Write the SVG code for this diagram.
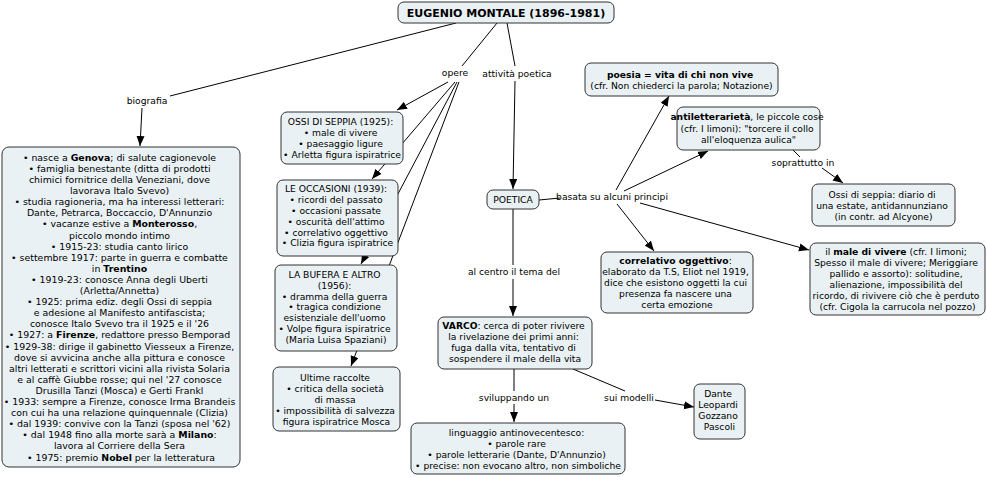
<svg xmlns="http://www.w3.org/2000/svg" width="987" height="477" viewBox="0 0 987 477">
<style>
.t{font-family:"DejaVu Sans",Verdana,"Liberation Sans",sans-serif;font-size:9.2px;fill:#000;text-anchor:middle}
.bio{font-size:9.4px}
.b{font-weight:bold}
.box{fill:#eaf1f4;stroke:#333;stroke-width:1}
.ln{stroke:#000;stroke-width:1;fill:none}
.ar{marker-end:url(#ah)}
</style>
<defs>
<marker id="ah" markerUnits="userSpaceOnUse" markerWidth="11" markerHeight="9" refX="10" refY="4" orient="auto" viewBox="0 0 11 9">
<path d="M0,0 L10,4 L0,8 z" fill="#000"/>
</marker>
</defs>
<rect width="987" height="477" fill="#fff"/>
<g id="connectors">
<line class="ln" x1="456" y1="23" x2="170" y2="96"/>
<line class="ln ar" x1="142" y1="108" x2="140" y2="146"/>
<line class="ln" x1="497" y1="23" x2="462" y2="66"/>
<line class="ln" x1="507" y1="23" x2="515" y2="66"/>
<line class="ln ar" x1="448" y1="82" x2="397" y2="110"/>
<line class="ln ar" x1="455" y1="82" x2="372" y2="179"/>
<line class="ln ar" x1="457" y1="82" x2="361" y2="264"/>
<line class="ln ar" x1="459" y1="82" x2="351" y2="366"/>
<line class="ln ar" x1="515" y1="81" x2="513" y2="189"/>
<line class="ln" x1="539" y1="200" x2="560" y2="198"/>
<line class="ln ar" x1="616" y1="190" x2="669" y2="96"/>
<line class="ln ar" x1="624" y1="191" x2="708" y2="151"/>
<line class="ln ar" x1="640" y1="203" x2="809" y2="250"/>
<line class="ln ar" x1="617" y1="204" x2="654" y2="251"/>
<line class="ln" x1="793" y1="150" x2="800" y2="157"/>
<line class="ln ar" x1="822" y1="168" x2="843" y2="183"/>
<line class="ln" x1="513" y1="209" x2="513" y2="265"/>
<line class="ln ar" x1="513" y1="279" x2="513" y2="316"/>
<line class="ln" x1="514" y1="369" x2="514" y2="391"/>
<line class="ln ar" x1="514" y1="404" x2="514" y2="422"/>
<line class="ln" x1="573" y1="369" x2="625" y2="391"/>
<line class="ln ar" x1="655" y1="400" x2="694" y2="407"/>
</g>
<g id="labels">
<text class="t" x="147" y="104.3">biografia</text>
<text class="t" x="455" y="76">opere</text>
<text class="t" x="517" y="77">attività poetica</text>
<text class="t" x="612" y="200">basata su alcuni principi</text>
<text class="t" x="803" y="166">soprattutto in</text>
<text class="t" x="514" y="275.3">al centro il tema del</text>
<text class="t" x="514" y="401">sviluppando un</text>
<text class="t" x="629" y="400.5">sui modelli</text>
</g>
<g id="title">
<rect class="box" x="398" y="2" width="216" height="21" rx="6"/>
<text class="t b" x="506" y="16.5" style="font-size:11px">EUGENIO MONTALE (1896-1981)</text>
</g>
<g id="biografia">
<rect class="box" x="2" y="147" width="238" height="320" rx="7"/>
<text class="t bio" x="121" y="160.8">
<tspan x="121" dy="0">• nasce a <tspan class="b">Genova</tspan>; di salute cagionevole</tspan>
<tspan x="121" dy="11.1">• famiglia benestante (ditta di prodotti</tspan>
<tspan x="121" dy="11.1">chimici fornitrice della Veneziani, dove</tspan>
<tspan x="121" dy="11.1">lavorava Italo Svevo)</tspan>
<tspan x="121" dy="11.1">• studia ragioneria, ma ha interessi letterari:</tspan>
<tspan x="121" dy="11.1">Dante, Petrarca, Boccaccio, D'Annunzio</tspan>
<tspan x="121" dy="11.1">• vacanze estive a <tspan class="b">Monterosso</tspan>,</tspan>
<tspan x="121" dy="11.1">piccolo mondo intimo</tspan>
<tspan x="121" dy="11.1">• 1915-23: studia canto lirico</tspan>
<tspan x="121" dy="11.1">• settembre 1917: parte in guerra e combatte</tspan>
<tspan x="121" dy="11.1">in <tspan class="b">Trentino</tspan></tspan>
<tspan x="121" dy="11.1">• 1919-23: conosce Anna degli Uberti</tspan>
<tspan x="121" dy="11.1">(Arletta/Annetta)</tspan>
<tspan x="121" dy="11.1">• 1925: prima ediz. degli Ossi di seppia</tspan>
<tspan x="121" dy="11.1">e adesione al Manifesto antifascista;</tspan>
<tspan x="121" dy="11.1">conosce Italo Svevo tra il 1925 e il '26</tspan>
<tspan x="121" dy="11.1">• 1927: a <tspan class="b">Firenze</tspan>, redattore presso Bemporad</tspan>
<tspan x="121" dy="11.1">• 1929-38: dirige il gabinetto Viesseux a Firenze,</tspan>
<tspan x="121" dy="11.1">dove si avvicina anche alla pittura e conosce</tspan>
<tspan x="121" dy="11.1">altri letterati e scrittori vicini alla rivista Solaria</tspan>
<tspan x="121" dy="11.1">e al caffè Giubbe rosse; qui nel '27 conosce</tspan>
<tspan x="121" dy="11.1">Drusilla Tanzi (Mosca) e Gerti Frankl</tspan>
<tspan x="121" dy="11.1">• 1933: sempre a Firenze, conosce Irma Brandeis</tspan>
<tspan x="121" dy="11.1">con cui ha una relazione quinquennale (Clizia)</tspan>
<tspan x="121" dy="11.1">• dal 1939: convive con la Tanzi (sposa nel '62)</tspan>
<tspan x="121" dy="11.1">• dal 1948 fino alla morte sarà a <tspan class="b">Milano</tspan>:</tspan>
<tspan x="121" dy="11.1">lavora al Corriere della Sera</tspan>
<tspan x="121" dy="11.1">• 1975: premio <tspan class="b">Nobel</tspan> per la letteratura</tspan>
</text>
</g>
<g id="ossi">
<rect class="box" x="281" y="112" width="122" height="52" rx="6"/>
<text class="t" x="342" y="124.8">
<tspan x="342" dy="0">OSSI DI SEPPIA (1925):</tspan>
<tspan x="342" dy="10.9">• male di vivere</tspan>
<tspan x="342" dy="10.9">• paesaggio ligure</tspan>
<tspan x="342" dy="10.9">• Arletta figura ispiratrice</tspan>
</text>
</g>
<g id="occasioni">
<rect class="box" x="277" y="180" width="121" height="76" rx="6"/>
<text class="t" x="337.5" y="192.3">
<tspan x="337.5" dy="0">LE OCCASIONI (1939):</tspan>
<tspan x="337.5" dy="10.8">• ricordi del passato</tspan>
<tspan x="337.5" dy="10.8">• occasioni passate</tspan>
<tspan x="337.5" dy="10.8">• oscurità dell'attimo</tspan>
<tspan x="337.5" dy="10.8">• correlativo oggettivo</tspan>
<tspan x="337.5" dy="10.8">• Clizia figura ispiratrice</tspan>
</text>
</g>
<g id="bufera">
<rect class="box" x="275" y="265" width="122" height="86" rx="6"/>
<text class="t" x="336" y="278.3">
<tspan x="336" dy="0">LA BUFERA E ALTRO</tspan>
<tspan x="336" dy="10.7">(1956):</tspan>
<tspan x="336" dy="10.7">• dramma della guerra</tspan>
<tspan x="336" dy="10.7">• tragica condizione</tspan>
<tspan x="336" dy="10.7">esistenziale dell'uomo</tspan>
<tspan x="336" dy="10.7">• Volpe figura ispiratrice</tspan>
<tspan x="336" dy="10.7">(Maria Luisa Spaziani)</tspan>
</text>
</g>
<g id="ultime">
<rect class="box" x="273" y="367" width="127" height="64" rx="6"/>
<text class="t" x="336.5" y="380.5">
<tspan x="336.5" dy="0">Ultime raccolte</tspan>
<tspan x="336.5" dy="11">• critica della società</tspan>
<tspan x="336.5" dy="11">di massa</tspan>
<tspan x="336.5" dy="11">• impossibilità di salvezza</tspan>
<tspan x="336.5" dy="11">figura ispiratrice Mosca</tspan>
</text>
</g>
<g id="poetica">
<rect class="box" x="487" y="190" width="52" height="19" rx="6"/>
<text class="t" x="513" y="203.3">POETICA</text>
</g>
<g id="poesia">
<rect class="box" x="585" y="63" width="193" height="33" rx="6"/>
<text class="t" x="681.5" y="77.5">
<tspan x="681.5" dy="0" class="b">poesia = vita di chi non vive</tspan>
<tspan x="681.5" dy="11.3">(cfr. Non chiederci la parola; Notazione)</tspan>
</text>
</g>
<g id="antiletterarieta">
<rect class="box" x="677" y="107" width="143" height="43" rx="6"/>
<text class="t" x="748.5" y="120.3">
<tspan x="748.5" dy="0"><tspan class="b">antiletterarietà</tspan>, le piccole cose</tspan>
<tspan x="748.5" dy="11.2">(cfr. I limoni): "torcere il collo</tspan>
<tspan x="748.5" dy="11.2">all'eloquenza aulica"</tspan>
</text>
</g>
<g id="ossi-diario">
<rect class="box" x="812" y="184" width="143" height="42" rx="6"/>
<text class="t" x="883.5" y="198.3">
<tspan x="883.5" dy="0">Ossi di seppia: diario di</tspan>
<tspan x="883.5" dy="11">una estate, antidannunziano</tspan>
<tspan x="883.5" dy="11">(in contr. ad Alcyone)</tspan>
</text>
</g>
<g id="male-di-vivere">
<rect class="box" x="810" y="243" width="175" height="72" rx="6"/>
<text class="t" x="897.5" y="255.3">
<tspan x="897.5" dy="0">il <tspan class="b">male di vivere</tspan> (cfr. I limoni;</tspan>
<tspan x="897.5" dy="11">Spesso il male di vivere; Meriggiare</tspan>
<tspan x="897.5" dy="11">pallido e assorto): solitudine,</tspan>
<tspan x="897.5" dy="11">alienazione, impossibilità del</tspan>
<tspan x="897.5" dy="11">ricordo, di rivivere ciò che è perduto</tspan>
<tspan x="897.5" dy="11">(cfr. Cigola la carrucola nel pozzo)</tspan>
</text>
</g>
<g id="correlativo">
<rect class="box" x="601" y="252" width="152" height="61" rx="6"/>
<text class="t" x="677" y="264.3">
<tspan x="677" dy="0"><tspan class="b">correlativo oggettivo</tspan>:</tspan>
<tspan x="677" dy="11">elaborato da T.S, Eliot nel 1919,</tspan>
<tspan x="677" dy="11">dice che esistono oggetti la cui</tspan>
<tspan x="677" dy="11">presenza fa nascere una</tspan>
<tspan x="677" dy="11">certa emozione</tspan>
</text>
</g>
<g id="varco">
<rect class="box" x="438" y="317" width="154" height="52" rx="6"/>
<text class="t" x="515" y="329.3">
<tspan x="515" dy="0"><tspan class="b">VARCO</tspan>: cerca di poter rivivere</tspan>
<tspan x="515" dy="11">la rivelazione dei primi anni:</tspan>
<tspan x="515" dy="11">fuga dalla vita, tentativo di</tspan>
<tspan x="515" dy="11">sospendere il male della vita</tspan>
</text>
</g>
<g id="modelli">
<rect class="box" x="694" y="384" width="51" height="55" rx="6"/>
<text class="t" x="719.5" y="397.3">
<tspan x="719.5" dy="0">Dante</tspan>
<tspan x="719.5" dy="11">Leopardi</tspan>
<tspan x="719.5" dy="11">Gozzano</tspan>
<tspan x="719.5" dy="11">Pascoli</tspan>
</text>
</g>
<g id="linguaggio">
<rect class="box" x="411" y="423" width="214" height="51" rx="6"/>
<text class="t" x="518" y="436.3">
<tspan x="518" dy="0">linguaggio antinovecentesco:</tspan>
<tspan x="518" dy="11">• parole rare</tspan>
<tspan x="518" dy="11">• parole letterarie (Dante, D'Annunzio)</tspan>
<tspan x="518" dy="11">• precise: non evocano altro, non simboliche</tspan>
</text>
</g>
</svg>
